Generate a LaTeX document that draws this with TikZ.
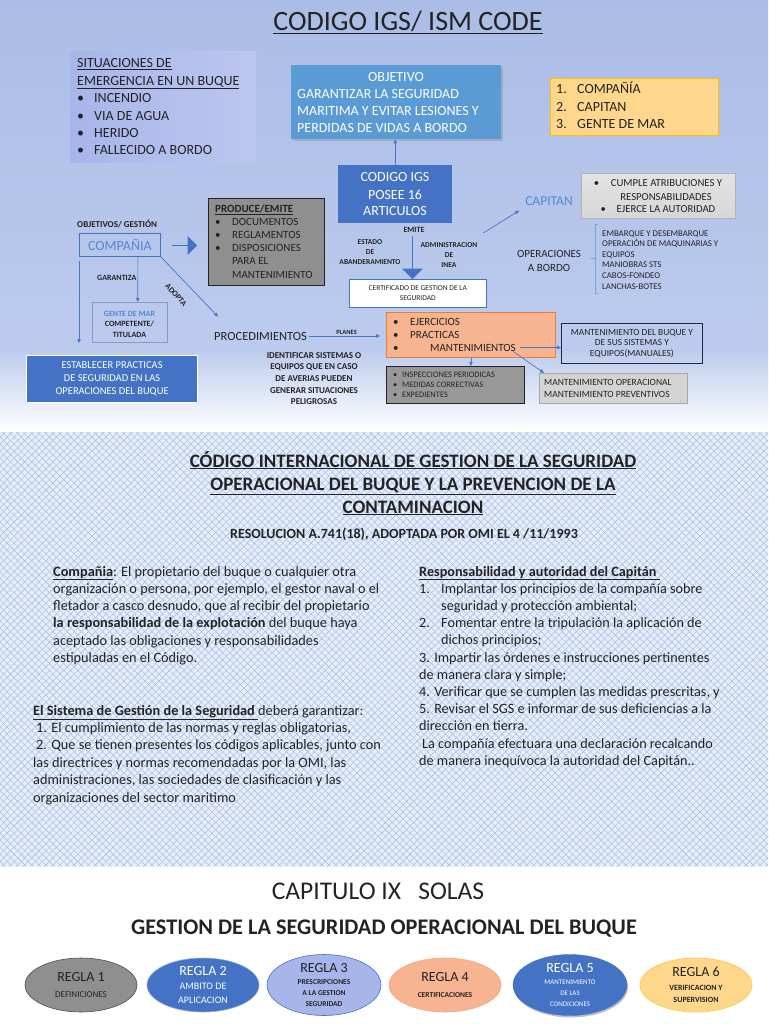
\documentclass[tikz,border=0pt]{standalone}
\usepackage{fontspec}
\setmainfont{Carlito}
\usetikzlibrary{positioning,shapes.geometric,shapes.arrows,shadows,patterns.meta,arrows.meta}
\definecolor{bgtop}{RGB}{171,189,230}
\definecolor{bgmid}{RGB}{188,203,237}
\definecolor{hatchbg}{RGB}{232,238,249}
\definecolor{hatchln}{RGB}{172,193,233}
\definecolor{igsblue}{RGB}{68,114,196}
\definecolor{objblue}{RGB}{91,155,213}
\definecolor{txtblue}{RGB}{86,134,214}
\definecolor{linkblue}{RGB}{72,118,200}
\definecolor{boxgray}{RGB}{143,143,143}
\definecolor{lightbox}{RGB}{212,212,212}
\definecolor{salmon}{RGB}{246,180,145}
\definecolor{salmonline}{RGB}{237,125,49}
\definecolor{gold}{RGB}{255,192,0}
\definecolor{goldfill}{RGB}{255,215,140}
\definecolor{lavender}{RGB}{168,181,234}
\definecolor{lavender2}{RGB}{188,199,240}
\definecolor{gentebd}{RGB}{140,152,190}
\definecolor{navy}{RGB}{30,40,70}
\definecolor{ink}{RGB}{35,35,35}
\newcommand{\itm}[1][17pt]{\makebox[#1][l]{\textbullet}}
\begin{document}
\begin{tikzpicture}
    [x=1pt, y=-1pt,
    box/.style={anchor=north west, inner sep=0pt},
    txt/.style={anchor=base west, inner sep=0pt, align=left, text=ink},
    ctxt/.style={anchor=base, inner sep=0pt, align=center, text=ink},
    link/.style={draw=linkblue, line width=0.7pt, -{Triangle[length=4pt,width=3.5pt]}},
    regla/.style={ellipse, minimum width=112pt, minimum height=54pt, inner sep=0pt, align=center, font=\fontsize{14}{14}\selectfont}]
    \useasboundingbox (0,0) rectangle (768,1024);
    \fill[top color=bgtop, bottom color=bgmid] (0,0) rectangle (768,350);
    \fill[top color=bgmid, bottom color=white] (0,350) rectangle (768,432);
    \fill[hatchbg] (0,432) rectangle (768,866);
    \fill[pattern={Lines[angle=45,distance=5pt,line width=0.6pt]}, pattern color=hatchln] (0,432) rectangle (768,866);
    \fill[pattern={Lines[angle=-45,distance=5pt,line width=0.6pt]}, pattern color=hatchln] (0,432) rectangle (768,866);

    \node[ctxt, font=\fontsize{28}{34}\selectfont] (Title) at (408,31) {\underline{CODIGO IGS/ ISM CODE}};

    \node[box, left color=lavender, right color=lavender2, minimum width=186, minimum height=111] (Sit) at (70,51) {};
    \node[txt, font=\fontsize{14}{17.4}\selectfont] (SitT) at (77,155) {\underline{SITUACIONES DE}\\\underline{EMERGENCIA EN UN BUQUE}\\\itm INCENDIO\\\itm VIA DE AGUA\\\itm HERIDO\\\itm FALLECIDO A BORDO};

    \node[box, fill=objblue, drop shadow={opacity=0.35, shadow xshift=1.5pt, shadow yshift=-1.5pt}, minimum width=210, minimum height=74] (Obj) at (291,65) {};
    \node[ctxt, text=white, font=\fontsize{14}{17}\selectfont] (ObjT) at (396,82) {OBJETIVO};
    \node[txt, text=white, font=\fontsize{14}{17}\selectfont] (ObjL) at (297,133) {GARANTIZAR LA SEGURIDAD\\MARITIMA Y EVITAR LESIONES Y\\PERDIDAS DE VIDAS A BORDO};

    \node[box, draw=gold, line width=1pt, fill=goldfill, minimum width=168, minimum height=57] (Roles) at (550,78) {};
    \node[txt, font=\fontsize{14}{17.5}\selectfont] (RolesT) at (556,129) {\makebox[21pt][l]{1.}COMPAÑÍA\\\makebox[21pt][l]{2.}CAPITAN\\\makebox[21pt][l]{3.}GENTE DE MAR};

    \node[box, fill=igsblue, minimum width=114, minimum height=58] (Igs) at (338,165) {};
    \node[ctxt, text=white, font=\fontsize{14}{17}\selectfont] (IgsT) at (395,216) {CODIGO IGS\\POSEE 16\\ARTICULOS};

    \node[box, draw=ink, line width=0.8pt, fill=boxgray, minimum width=116, minimum height=87] (Prod) at (208,198) {};
    \node[txt, font=\fontsize{11}{13.2}\selectfont] (ProdT) at (215,278) {\textbf{\underline{PRODUCE/EMITE}}\\\itm DOCUMENTOS\\\itm REGLAMENTOS\\\itm DISPOSICIONES\\\hspace*{17pt}PARA EL\\\hspace*{17pt}MANTENIMIENTO};

    \node[txt, font=\bfseries\fontsize{9}{11}\selectfont] (Gest) at (77,227) {OBJETIVOS/ GESTIÓN};
    \node[box, draw=igsblue, line width=0.8pt, text=txtblue, font=\fontsize{14}{17}\selectfont, minimum width=81, minimum height=23] (Comp) at (79,233) {COMPAÑIA};
    \node[single arrow, fill=igsblue, minimum height=25, minimum width=19, single arrow head extend=4.5, inner sep=0pt] (BigR) at (184.5,245.5) {};

    \node[txt, font=\bfseries\fontsize{8}{10}\selectfont] (Gar) at (97,280) {GARANTIZA};
    \node[box, draw=gentebd, line width=0.6pt, minimum width=75, minimum height=40] (Gente) at (92,302) {};
    \node[ctxt, font=\bfseries\fontsize{8}{10.8}\selectfont] (GenteT) at (129.5,337.6) {\textcolor{txtblue}{GENTE DE MAR}\\COMPETENTE/\\TITULADA};
    \node[inner sep=0pt, rotate=-48, text=ink, font=\bfseries\fontsize{8}{10}\selectfont] (Adop) at (176,295) {ADOPTA};

    \node[box, draw=white, line width=1.2pt, fill=igsblue, text=white, align=center, font=\fontsize{10.5}{13}\selectfont, minimum width=171, minimum height=47] (Estab) at (26,355) {ESTABLECER PRACTICAS\\DE SEGURIDAD EN LAS\\OPERACIONES DEL BUQUE};

    \node[txt, font=\fontsize{12.5}{15}\selectfont] (Proc) at (214,340) {PROCEDIMIENTOS};
    \node[ctxt, font=\bfseries\fontsize{9}{11.7}\selectfont] (Ident) at (314,404.8) {IDENTIFICAR SISTEMAS O\\EQUIPOS QUE EN CASO\\DE AVERIAS PUEDEN\\GENERAR SITUACIONES\\PELIGROSAS};

    \node[ctxt, font=\bfseries\fontsize{8}{10}\selectfont] (Emite) at (414,233) {EMITE};
    \node[ctxt, font=\bfseries\fontsize{7.5}{10}\selectfont] (Estado) at (370,264) {ESTADO\\DE\\ABANDERAMIENTO};
    \node[ctxt, font=\bfseries\fontsize{7.5}{10}\selectfont] (Adm) at (449,267) {ADMINISTRACION\\DE\\INEA};
    \node[single arrow, shape border rotate=270, fill=igsblue, minimum height=43, minimum width=21, single arrow head extend=5, inner sep=0pt] (BigD) at (412.5,257.5) {};
    \node[box, draw=igsblue, line width=0.6pt, fill=white, align=center, text=ink, font=\fontsize{7.5}{10}\selectfont, minimum width=137, minimum height=28] (Cert) at (349,279) {CERTIFICADO DE GESTION DE LA\\SEGURIDAD};

    \node[box, draw=salmonline, line width=0.8pt, fill=salmon, minimum width=169, minimum height=45] (Orange) at (386,312) {};
    \node[txt, font=\fontsize{11}{13.3}\selectfont] (OrT) at (393,351.6) {\itm EJERCICIOS\\\itm PRACTICAS\\\textbullet};
    \node[txt, font=\fontsize{11}{13}\selectfont] (Mnt) at (430,351) {MANTENIMIENTOS};

    \node[box, draw=ink, line width=0.8pt, fill=boxgray!92!white, minimum width=138, minimum height=37] (Insp) at (386,366) {};
    \node[txt, font=\fontsize{8.4}{10}\selectfont] (InspT) at (393,397) {\itm[9pt]INSPECCIONES PERIODICAS\\\itm[9pt]MEDIDAS CORRECTIVAS\\\itm[9pt]EXPEDIENTES};

    \node[box, draw=navy, line width=0.8pt, align=center, text=ink, font=\fontsize{9.4}{10.8}\selectfont, minimum width=141, minimum height=40] (Buque) at (561,323) {MANTENIMIENTO DEL BUQUE Y\\DE SUS SISTEMAS Y\\EQUIPOS(MANUALES)};
    \node[box, draw=gray!70, line width=0.6pt, fill=lightbox, minimum width=148, minimum height=30] (Oper) at (539,373) {};
    \node[txt, font=\fontsize{9.5}{12}\selectfont] (OperT) at (544,397) {MANTENIMIENTO OPERACIONAL\\MANTENIMIENTO PREVENTIVOS};

    \node[inner sep=0pt, text=txtblue, font=\fontsize{13.5}{16}\selectfont] (Cap) at (549,201) {CAPITAN};
    \node[box, draw=gray!60, line width=0.6pt, top color=gray!22, bottom color=gray!32, minimum width=154, minimum height=45] (Cumple) at (581,173) {};
    \node[ctxt, font=\fontsize{10.7}{13}\selectfont] (CumpleT) at (658,213) {\itm CUMPLE ATRIBUCIONES Y\\\hspace*{16pt}RESPONSABILIDADES\\\itm[16pt]EJERCE LA AUTORIDAD};
    \node[ctxt, font=\fontsize{11}{14}\selectfont] (OpBordo) at (549,271) {OPERACIONES\\A BORDO};
    \node[txt, font=\fontsize{8.8}{10.6}\selectfont] (Lista) at (602,289) {EMBARQUE Y DESEMBARQUE\\OPERACIÓN DE MAQUINARIAS Y\\EQUIPOS\\MANIOBRAS STS\\CABOS-FONDEO\\LANCHAS-BOTES};
    \draw[linkblue!70, line width=0.5pt] (598,224) -- (595,224) -- (595,293) -- (598,293) (595,258) -- (591,258);

    \draw[link] (Igs.north) -- (Igs.north |- Obj.south);
    \draw[link, shorten <=4pt, shorten >=12pt] (Comp.south west) -- (Comp.south west |- Estab.north);
    \draw[link] ([xshift=18pt]Comp.south) -- ([xshift=8pt]Gente.north);
    \draw[link] (Comp.south east) -- ([shift={(4pt,15pt)}]Proc.north west);
    \draw[link, shorten <=2pt, shorten >=6pt] (Proc.east) -- (Proc.east -| Orange.west) node[midway, above=1pt, inner sep=0pt, text=ink, font=\bfseries\fontsize{6.5}{8}\selectfont] (Plan) {PLANES};
    \draw[link] (Orange.south) -- (Orange.south |- Insp.north);
    \draw[link, shorten <=4pt] (Mnt.east) -- (Mnt.east -| Buque.west);
    \draw[link] ([xshift=-3pt]Mnt.south east) -- ([xshift=5pt]Oper.north west);
    \draw[link] ([shift={(6pt,9pt)}]Adm.north east) -- ([shift={(-6pt,-5pt)}]Cap.south west);

    \node[ctxt, font=\bfseries\fontsize{19}{23}\selectfont] (Cod) at (413,513) {\underline{CÓDIGO INTERNACIONAL DE GESTION DE LA SEGURIDAD}\\\underline{OPERACIONAL DEL BUQUE Y LA PREVENCION DE LA}\\\underline{CONTAMINACION}};
    \node[ctxt, font=\bfseries\fontsize{14}{17}\selectfont] (Resol) at (404,538) {RESOLUCION A.741(18), ADOPTADA POR OMI EL 4 /11/1993};

    \node[txt, font=\fontsize{14.3}{17.3}\selectfont] (Def) at (53,662.5) {\textbf{\underline{Compañia}}: El propietario del buque o cualquier otra\\organización o persona, por ejemplo, el gestor naval o el\\fletador a casco desnudo, que al recibir del propietario\\\textbf{la responsabilidad de la explotación} del buque haya\\aceptado las obligaciones y responsabilidades\\estipuladas en el Código.};
    \node[txt, font=\fontsize{14.3}{17.4}\selectfont] (Sgs) at (33,802) {\textbf{\underline{El Sistema de Gestión de la Seguridad }}deberá garantizar:\\\hspace*{3pt}1. El cumplimiento de las normas y reglas obligatorias,\\\hspace*{3pt}2. Que se tienen presentes los códigos aplicables, junto con\\las directrices y normas recomendadas por la OMI, las\\administraciones, las sociedades de clasificación y las\\organizaciones del sector maritimo};
    \node[txt, font=\fontsize{14.2}{17.2}\selectfont] (Resp) at (419,765.2) {\textbf{\underline{Responsabilidad y autoridad del Capitán }}\\\makebox[22pt][l]{1.}Implantar los principios de la compañía sobre\\\hspace*{22pt}seguridad y protección ambiental;\\\makebox[22pt][l]{2.}Fomentar entre la tripulación la aplicación de\\\hspace*{22pt}dichos principios;\\3. Impartir las órdenes e instrucciones pertinentes\\de manera clara y simple;\\4. Verificar que se cumplen las medidas prescritas, y\\5. Revisar el SGS e informar de sus deficiencias a la\\dirección en tierra.\\\hspace*{3pt}La compañía efectuara una declaración recalcando\\de manera inequívoca la autoridad del Capitán..};

    \node[ctxt, font=\fontsize{25.5}{30}\selectfont] (Cap9) at (378,899) {CAPITULO IX\ \ \ SOLAS};
    \node[ctxt, font=\bfseries\fontsize{22.3}{26}\selectfont] (Gsob) at (384,934) {GESTION DE LA SEGURIDAD OPERACIONAL DEL BUQUE};

    \node[regla, fill=boxgray, draw=ink!80, line width=0.6pt, text=ink] (R1) at (81,985) {REGLA 1\\[2pt]{\fontsize{9}{10}\selectfont DEFINICIONES}};
    \node[regla, fill=igsblue, draw=igsblue!60!white, line width=0.6pt, text=white] (R2) at (203,985) {REGLA 2\\{\fontsize{10}{10}\selectfont AMBITO DE}\\{\fontsize{10}{10}\selectfont APLICACION}};
    \node[regla, fill=lavender, draw=igsblue, line width=0.6pt, text=ink, minimum width=114pt, minimum height=58pt] (R3) at (324,985) {REGLA 3\\[-2pt]{\bfseries\fontsize{7.5}{10}\selectfont PRESCRIPCIONES}\\[-3pt]{\bfseries\fontsize{7.5}{10}\selectfont A LA GESTION}\\[-3pt]{\bfseries\fontsize{7.5}{10}\selectfont SEGURIDAD}};
    \node[regla, fill=salmon, draw=salmon!80!salmonline, line width=0.6pt, text=ink] (R4) at (445,985) {REGLA 4\\[2pt]{\bfseries\fontsize{7.5}{10}\selectfont CERTIFICACIONES}};
    \node[regla, fill=igsblue, draw=igsblue, drop shadow={opacity=0.5, shadow xshift=1pt, shadow yshift=-2pt}, text=white, minimum width=114pt, minimum height=56pt] (R5) at (570,985) {REGLA 5\\[-2pt]{\fontsize{7}{9}\selectfont MANTENIMIENTO}\\[-3pt]{\fontsize{7}{9}\selectfont DE LAS}\\[-3pt]{\fontsize{7}{9}\selectfont CONDICIONES}};
    \node[regla, fill=goldfill, draw=gold!60!goldfill, line width=0.6pt, text=ink] (R6) at (696,985) {REGLA 6\\{\bfseries\fontsize{8}{10}\selectfont VERIFICACION Y}\\[-2pt]{\bfseries\fontsize{8}{10}\selectfont SUPERVISION}};
\end{tikzpicture}
\end{document}
